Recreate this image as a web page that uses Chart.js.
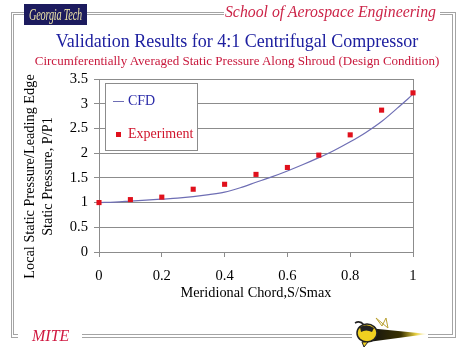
<!DOCTYPE html>
<html><head><meta charset="utf-8">
<script src="https://cdn.jsdelivr.net/npm/chart.js@4/dist/chart.umd.min.js"></script>
<style>
html,body{margin:0;padding:0;background:#fff;}
#wrap{position:relative;width:474px;height:355px;overflow:hidden;font-family:"Liberation Serif","Times New Roman",serif;}
#c{position:absolute;left:0;top:0;}
.frame{position:absolute;border:1px solid #a4a4a4;box-sizing:border-box;}
.abs{position:absolute;white-space:nowrap;line-height:1;}
.gap{position:absolute;background:#fff;}
</style>
</head><body>
<div id="wrap">
  <canvas id="c" width="474" height="355"></canvas>
  <div class="frame" style="left:11px;top:12px;width:445px;height:326px;"></div>
  <div class="frame" style="left:13px;top:14px;width:440px;height:321px;"></div>
  <div class="gap" style="left:224px;top:9px;width:216px;height:9px;"></div>
  <div class="gap" style="left:18px;top:330px;width:64px;height:10px;"></div>
  <div class="gap" style="left:352px;top:330px;width:76px;height:10px;"></div>
  <div class="abs" style="left:24px;top:4px;width:63px;height:21px;background:#1c1b5e;overflow:hidden;">
    <div class="abs" style="left:-30px;top:3px;width:123px;text-align:center;font-size:16px;font-style:italic;color:#ece3a8;transform:scaleX(0.64);transform-origin:center;letter-spacing:-0.3px;">Georgia Tech</div>
  </div>
  <div class="abs" id="hdr" style="right:38px;top:4px;font-size:15.8px;font-style:italic;color:#cc2448;">School of Aerospace Engineering</div>
  <div class="abs" id="ttl" style="left:0;width:474px;text-align:center;top:31.5px;font-size:18px;color:#1e20a0;">Validation Results for 4:1 Centrifugal Compressor</div>
  <div class="abs" id="sub" style="left:0;width:474px;text-align:center;top:54px;font-size:13px;color:#c8183c;">Circumferentially Averaged Static Pressure Along Shroud (Design Condition)</div>
  <div class="abs" style="left:32px;top:328px;font-size:16px;font-style:italic;color:#d01840;">MITE</div>
  <svg style="position:absolute;left:352px;top:314px;" width="80" height="34" viewBox="0 0 80 34">
    <defs><linearGradient id="st" x1="0" x2="1" y1="0" y2="0">
      <stop offset="0" stop-color="#111"/><stop offset="0.55" stop-color="#3a3200"/><stop offset="0.8" stop-color="#e8d040"/><stop offset="1" stop-color="#fff8c0" stop-opacity="0.2"/></linearGradient></defs>
    <path d="M16 14 L76 20 L16 28 Z" fill="url(#st)"/>
    <path d="M24 4 L30 12 L34 4 L36 14 Z" fill="#fff" stroke="#b8a030" stroke-width="1"/>
    <ellipse cx="15" cy="19" rx="10" ry="9" fill="#f0d020" stroke="#222" stroke-width="1.5"/>
    <path d="M8 13 Q15 9 22 14 L20 18 Q14 15 9 18 Z" fill="#222"/>
    <path d="M3 9 Q8 6 12 11" fill="none" stroke="#222" stroke-width="1.5"/>
    <path d="M10 28 L12 33 L16 28 Z" fill="#f0d020" stroke="#222" stroke-width="1"/>
  </svg>
  <div id="legend" style="position:absolute;left:105px;top:83px;width:93px;height:68px;border:1px solid #8c8c8c;background:#fff;box-sizing:border-box;"></div>
</div>
<script>
// ---- data ----
const cfdX = [0, 0.05, 0.1, 0.15, 0.2, 0.25, 0.3, 0.35, 0.4, 0.45, 0.5, 0.55, 0.6, 0.65, 0.7, 0.75, 0.8, 0.85, 0.9, 0.95, 1.0];
const cfdY = [1.0, 1.01, 1.03, 1.05, 1.07, 1.09, 1.12, 1.16, 1.21, 1.30, 1.41, 1.52, 1.64, 1.77, 1.91, 2.06, 2.23, 2.42, 2.64, 2.91, 3.19];
const expX = [0, 0.1, 0.2, 0.3, 0.4, 0.5, 0.6, 0.7, 0.8, 0.9, 1.0];
const expY = [1.0, 1.06, 1.11, 1.27, 1.37, 1.57, 1.71, 1.96, 2.37, 2.87, 3.22];
const seriesNames = ['CFD', 'Experiment'];
const xTitle = 'Meridional Chord,S/Smax';
const yTitle = ['Local Static Pressure/Leading Edge', 'Static Pressure, P/P1'];

const GRID = '#8c8c8c';
const FAMILY = '"Liberation Serif","Times New Roman",serif';
const TICKFONT = {family: FAMILY, size: 14.6};
const TITLEFONT = {family: FAMILY, size: 14.3};
const fmt = v => String(Number(Number(v).toFixed(2)));

// y-axis title drawn beside the y scale (two lines, rotated)
const yTitlePlugin = {
  id: 'yTitle',
  afterDraw(ch) {
    const ctx = ch.ctx, ys = ch.scales.y;
    const cy = (ch.chartArea.top + ch.chartArea.bottom) / 2 + 11;
    ctx.save();
    ctx.font = TITLEFONT.size + 'px ' + FAMILY;
    ctx.fillStyle = '#000';
    ctx.textAlign = 'center';
    ctx.textBaseline = 'middle';
    yTitle.forEach((t, i) => {
      ctx.save();
      ctx.translate(ys.left + 9.5 + i * 17.5, cy);
      ctx.rotate(-Math.PI / 2);
      ctx.fillText(t, 0, 0);
      ctx.restore();
    });
    ctx.restore();
  }
};

const chart = new Chart(document.getElementById('c'), {
  type: 'scatter',
  data: {
    datasets: [
      {label: seriesNames[0], data: cfdX.map((x, i) => ({x, y: cfdY[i]})), showLine: true,
       borderColor: '#6e6eb4', borderWidth: 1.2, pointRadius: 0, cubicInterpolationMode: 'monotone', order: 2},
      {label: seriesNames[1], data: expX.map((x, i) => ({x, y: expY[i]})), showLine: false,
       pointStyle: 'rect', pointRadius: 3.6, backgroundColor: '#e0101c', borderWidth: 0, clip: false, order: 1}
    ]
  },
  options: {
    responsive: false, animation: false,
    layout: {padding: {left: 21, top: 79, right: 61, bottom: 48}},
    plugins: {legend: {display: false}, tooltip: {enabled: false}},
    scales: {
      x: {type: 'linear', min: 0, max: 1,
        ticks: {stepSize: 0.2, font: TICKFONT, color: '#000', padding: 10, maxRotation: 0, callback: fmt},
        grid: {color: c => (c.tick && c.tick.value === 1) ? GRID : 'rgba(0,0,0,0)', tickColor: GRID, tickLength: 5, drawOnChartArea: true},
        border: {color: GRID},
        title: {display: true, text: xTitle, font: TITLEFONT, color: '#000', padding: {top: 0, bottom: 5}},
        afterFit: s => { s.height = 55; }
      },
      y: {type: 'linear', min: 0, max: 3.5,
        ticks: {stepSize: 0.5, font: TICKFONT, color: '#000', padding: 6, callback: fmt},
        grid: {color: GRID, tickColor: GRID, tickLength: 5},
        border: {color: GRID},
        title: {display: false},
        afterFit: s => { s.width = 78; }
      }
    }
  },
  plugins: [yTitlePlugin]
});

// HTML legend built from the datasets
const lg = document.getElementById('wrap');
const items = [
  {ds: chart.data.datasets[0], y: 101, color: '#2a2aa8'},
  {ds: chart.data.datasets[1], y: 134, color: '#d0142c'}
];
items.forEach(it => {
  const sym = document.createElement('div');
  sym.style.position = 'absolute';
  if (it.ds.showLine) {
    Object.assign(sym.style, {left: '113px', top: (it.y - 0.5) + 'px', width: '11px', height: '1.2px', background: it.ds.borderColor});
  } else {
    Object.assign(sym.style, {left: '115.5px', top: (it.y - 2.5) + 'px', width: '5px', height: '5px', background: it.ds.backgroundColor});
  }
  lg.appendChild(sym);
  const t = document.createElement('div');
  t.className = 'abs';
  Object.assign(t.style, {left: '128px', top: (it.y + 4.6 - 11.7) + 'px', fontSize: '14px', color: it.color});
  t.textContent = it.ds.label;
  lg.appendChild(t);
});
</script>
</body></html>
